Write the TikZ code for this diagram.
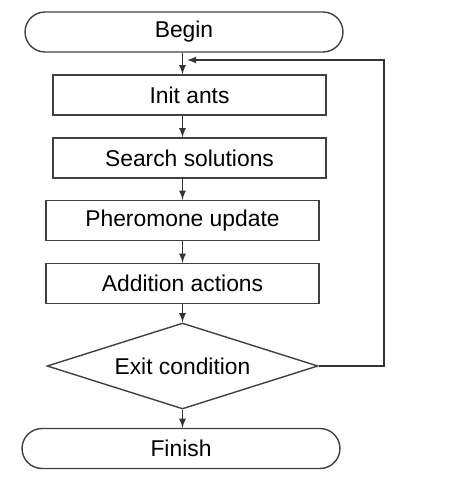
\documentclass[tikz,border=0pt]{standalone}
\usepackage{fontspec}
\setmainfont{Liberation Sans}
\usepackage{tikz}
\usetikzlibrary{arrows,calc,positioning,shapes.geometric,shapes.misc}

\tikzset{
  terminal/.style={draw=black!75,line width=0.8pt,rounded rectangle,minimum width=6.36cm,minimum height=0.8cm,inner sep=0pt},
  stepbox/.style={draw=black!75,line width=0.8pt,rectangle,minimum width=5.46cm,minimum height=0.8cm,inner sep=0pt},
  decision/.style={draw=black!75,line width=0.8pt,diamond,aspect=3.15,minimum width=5.42cm,minimum height=1.72cm,inner sep=0pt},
  flow/.style={draw=black!80,line width=0.8pt,-latex}
}

\begin{document}
\begin{tikzpicture}[x=0.02cm,y=-0.02cm,font=\fontsize{13}{15}\selectfont]
			\useasboundingbox (0,0) rectangle (474,480);
			\node[terminal] (begin) at (184,32) {Begin};
			\node[stepbox] (init) at (189.5,95) {Init ants};
			\node[stepbox] (search) at (189.5,158) {Search solutions};
			\node[stepbox] (pheromone) at (182.5,220.5) {Pheromone update};
			\node[stepbox] (addition) at (182.5,283.5) {Addition actions};
			\node[decision] (exit) at (182.5,366) {Exit condition};
			\node[terminal] (finish) at (181,448.5) {Finish};
			\coordinate (loopcorner) at (384,60);
			\coordinate (loopend) at (187,60);
			\draw[flow] (begin.south -| exit.north) -- (init.north -| exit.north);
			\draw[flow] (init.south -| exit.north) -- (search.north -| exit.north);
			\draw[flow] (search.south -| exit.north) -- (pheromone.north);
			\draw[flow] (pheromone.south) -- (addition.north);
			\draw[flow] (addition.south) -- (exit.north);
			\draw[flow] (exit.south) -- (finish.north -| exit.south);
			\draw[flow] (exit.east) -| (loopcorner) -- (loopend);
\end{tikzpicture}
\end{document}
